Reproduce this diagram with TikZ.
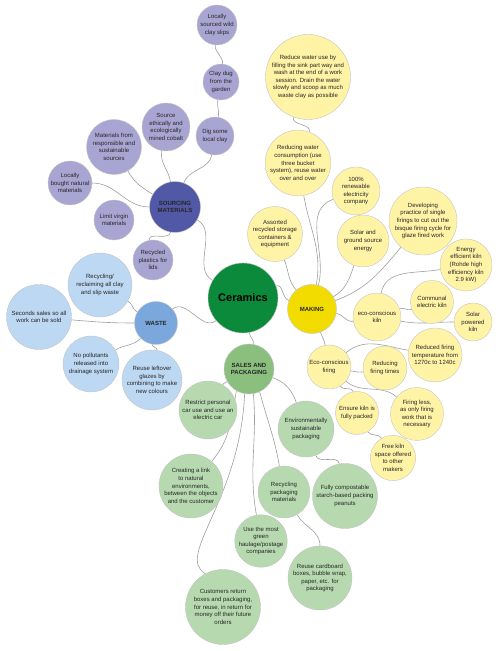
\documentclass[tikz,border=0pt]{standalone}
\usepackage{fontspec}
\setmainfont{Liberation Sans}
\usetikzlibrary{backgrounds}
\definecolor{srcleaf}{HTML}{A9A5D3}
\definecolor{srchub}{HTML}{5158A6}
\definecolor{rootfill}{HTML}{0C8A3B}
\definecolor{makehub}{HTML}{F2DC00}
\definecolor{makeleaf}{HTML}{FFF3A6}
\definecolor{wastehub}{HTML}{7AA8DC}
\definecolor{wasteleaf}{HTML}{BDD8F2}
\definecolor{saleshub}{HTML}{8ABF7E}
\definecolor{salesleaf}{HTML}{B7D9AF}
\definecolor{bubline}{HTML}{C4C4C4}
\definecolor{linkgray}{HTML}{9E9E9E}

\begin{document}
\begin{tikzpicture}[x=1pt,y=1pt,
  bub/.style={circle,draw=bubline,line width=0.4pt,inner sep=0pt,align=center,
    text=black!85,font=\fontsize{6}{7.6}\selectfont},
  hub/.style={bub,font=\fontsize{6}{7.6}\selectfont\bfseries},
  link/.style={draw=linkgray,line width=0.6pt}]
  \useasboundingbox (0,0) rectangle (500,651);
  % centre
  \node[bub,fill=rootfill,minimum size=70pt,font=\fontsize{11}{13}\selectfont\bfseries,text=black] (ceramics) at (243,353) {Ceramics};
  \node[hub,fill=srchub,minimum size=51pt] (sourcing) at (175,444) {SOURCING\\MATERIALS};
  \node[hub,fill=makehub,minimum size=49pt] (making) at (312,342) {MAKING};
  \node[hub,fill=wastehub,minimum size=43pt] (waste) at (156,328) {WASTE};
  \node[hub,fill=saleshub,minimum size=50pt] (sales) at (249,282) {SALES AND\\PACKAGING};
  %
  \node[bub,fill=srcleaf,minimum size=40pt] (slips) at (217,626) {Locally\\sourced wild\\clay slips};
  \node[bub,fill=srcleaf,minimum size=36pt] (claydug) at (221,569) {Clay dug\\from the\\garden};
  \node[bub,fill=srcleaf,minimum size=38pt] (digclay) at (215,515) {Dig some\\local clay};
  \node[bub,fill=srcleaf,minimum size=48pt] (cobalt) at (166,524) {Source\\ethically and\\ecologically\\mined cobalt};
  \node[bub,fill=srcleaf,minimum size=55pt] (responsible) at (114,504) {Materials from\\responsible and\\sustainable\\sources};
  \node[bub,fill=srcleaf,minimum size=44pt] (bought) at (70,468) {Locally\\bought natural\\materials};
  \node[bub,fill=srcleaf,minimum size=40pt] (virgin) at (114,431) {Limit virgin\\materials};
  \node[bub,fill=srcleaf,minimum size=40pt] (plastics) at (153,391) {Recycled\\plastics for\\lids};
  %
  \node[bub,fill=makeleaf,minimum size=85pt] (washup) at (308,574) {Reduce water use by\\filling the sink part way and\\wash at the end of a work\\session. Drain the water\\slowly and scoop as much\\waste clay as possible};
  \node[bub,fill=makeleaf,minimum size=65pt] (buckets) at (298,488) {Reducing water\\consumption (use\\three bucket\\system), reuse water\\over and over};
  \node[bub,fill=makeleaf,minimum size=48pt] (renewable) at (356,460) {100\%\\renewable\\electricity\\company};
  \node[bub,fill=makeleaf,minimum size=55pt] (storage) at (275,417) {Assorted\\recycled storage\\containers \&\\equipment};
  \node[bub,fill=makeleaf,minimum size=52pt] (solar) at (363,410) {Solar and\\ground source\\energy};
  \node[bub,fill=makeleaf,minimum size=68pt] (singlefire) at (423,430) {Developing\\practice of single\\firings to cut out the\\bisque firing cycle for\\glaze fired work};
  \node[bub,fill=makeleaf,minimum size=52pt] (efficient) at (466,386) {Energy\\efficient kiln\\(Rohde high\\efficiency kiln\\2.9 kW)};
  \node[bub,fill=makeleaf,minimum size=48pt] (ecokiln) at (377,334) {eco-conscious\\kiln};
  \node[bub,fill=makeleaf,minimum size=43pt] (communal) at (432,349) {Communal\\electric kiln};
  \node[bub,fill=makeleaf,minimum size=38pt] (solarkiln) at (473,329) {Solar\\powered\\kiln};
  \node[bub,fill=makeleaf,minimum size=54pt] (lowtemp) at (435,296) {Reduced firing\\temperature from\\1270c to 1240c};
  \node[bub,fill=makeleaf,minimum size=44pt] (ecofiring) at (329,284) {Eco-conscious\\firing};
  \node[bub,fill=makeleaf,minimum size=44pt] (fastfire) at (385,283) {Reducing\\firing times};
  \node[bub,fill=makeleaf,minimum size=43pt] (packed) at (357,238) {Ensure kiln is\\fully packed};
  \node[bub,fill=makeleaf,minimum size=53pt] (fewfire) at (417,237) {Firing less,\\as only firing\\work that is\\necessary};
  \node[bub,fill=makeleaf,minimum size=43pt] (sharekiln) at (393,193) {Free kiln\\space offered\\to other\\makers};
  %
  \node[bub,fill=wasteleaf,minimum size=64pt] (reclaim) at (100,366) {Recycling/\\reclaiming all clay\\and slip waste};
  \node[bub,fill=wasteleaf,minimum size=65pt] (seconds) at (39,334) {Seconds sales so all\\work can be sold};
  \node[bub,fill=wasteleaf,minimum size=56pt] (pollutants) at (91,287) {No pollutants\\released into\\drainage system};
  \node[bub,fill=wasteleaf,minimum size=60pt] (glazes) at (152,271) {Reuse leftover\\glazes by\\combining to make\\new colours};
  %
  \node[bub,fill=salesleaf,minimum size=58pt] (car) at (208,241) {Restrict personal\\car use and use an\\electric car};
  \node[bub,fill=salesleaf,minimum size=56pt] (envpack) at (306,222) {Environmentally\\sustainable\\packaging};
  \node[bub,fill=salesleaf,minimum size=64pt] (nature) at (191,165) {Creating a link\\to natural\\environments,\\between the objects\\and the customer};
  \node[bub,fill=salesleaf,minimum size=52pt] (recpack) at (284,159) {Recycling\\packaging\\materials};
  \node[bub,fill=salesleaf,minimum size=65pt] (peanuts) at (345,155) {Fully compostable\\starch-based packing\\peanuts};
  \node[bub,fill=salesleaf,minimum size=52pt] (haulage) at (261,110) {Use the most\\green\\haulage/postage\\companies};
  \node[bub,fill=salesleaf,minimum size=64pt] (cardboard) at (320,73) {Reuse cardboard\\boxes, bubble wrap,\\paper, etc. for\\packaging};
  \node[bub,fill=salesleaf,minimum size=75pt] (returns) at (223,44) {Customers return\\boxes and packaging,\\for reuse, in return for\\money off their future\\orders};
  %
  \begin{pgfonlayer}{background}
  \draw[link] (ceramics) to[out=20,in=160] (making);
  \draw[link] (ceramics) to[out=-80,in=80] (sales);
  \draw[link] (waste) to[out=40,in=-140] (ceramics);
  \draw[link] (sourcing) to[out=-30,in=150] (ceramics);
  %
  \draw[link] (slips) to[out=-95,in=85] (claydug);
  \draw[link] (claydug) to[out=-100,in=80] (digclay);
  \draw[link] (digclay) to[out=-100,in=70] (sourcing);
  \draw[link] (cobalt) to[out=-100,in=100] (sourcing);
  \draw[link] (responsible) to[out=-60,in=150] (sourcing);
  \draw[link] (bought) to[out=0,in=180] (sourcing);
  \draw[link] (plastics) to[out=100,in=-100] (sourcing);
  %
  \draw[link] (washup) to[out=-110,in=70] (buckets);
  \draw[link] (buckets) to[out=-80,in=80] (making);
  \draw[link] (renewable) to[out=200,in=75] (making);
  \draw[link] (storage) to[out=-70,in=130] (making);
  \draw[link] (solar) to[out=-110,in=30] (making);
  \draw[link] (singlefire) to[out=-130,in=20] (making);
  \draw[link] (making) to[out=-10,in=190] (ecokiln);
  \draw[link] (making) to[out=-70,in=100] (ecofiring);
  \draw[link] (efficient) to[out=190,in=80] (ecokiln);
  \draw[link] (ecokiln) to[out=20,in=200] (communal);
  \draw[link] (ecokiln) to[out=-10,in=180] (solarkiln);
  \draw[link] (ecofiring) to[out=40,in=170] (lowtemp);
  \draw[link] (ecofiring) to[out=-10,in=190] (fastfire);
  \draw[link] (ecofiring) to[out=-60,in=100] (packed);
  \draw[link] (ecofiring) to[out=-40,in=140] (fewfire);
  \draw[link] (packed) to[out=-60,in=120] (sharekiln);
  %
  \draw[link] (reclaim) to[out=-30,in=150] (waste);
  \draw[link] (seconds) to[out=-5,in=180] (waste);
  \draw[link] (pollutants) to[out=30,in=-135] (waste);
  \draw[link] (glazes) to[out=80,in=-100] (waste);
  %
  \draw[link] (car) to[out=60,in=-150] (sales);
  \draw[link] (sales) to[out=-20,in=110] (envpack);
  \draw[link] (envpack) to[out=-70,in=100] (peanuts);
  \draw[link] (sales.-120) to[out=-100,in=50] (nature);
  \draw[link] (sales.-65) to[out=-75,in=100] (recpack);
  \draw[link] (recpack) to[out=-60,in=90] (cardboard);
  \draw[link] (sales.-80) to[out=-85,in=100] (haulage);
  \draw[link] (sales.-100) .. controls (240,150) and (175,95) .. (returns.118);
  \end{pgfonlayer}
\end{tikzpicture}
\end{document}
